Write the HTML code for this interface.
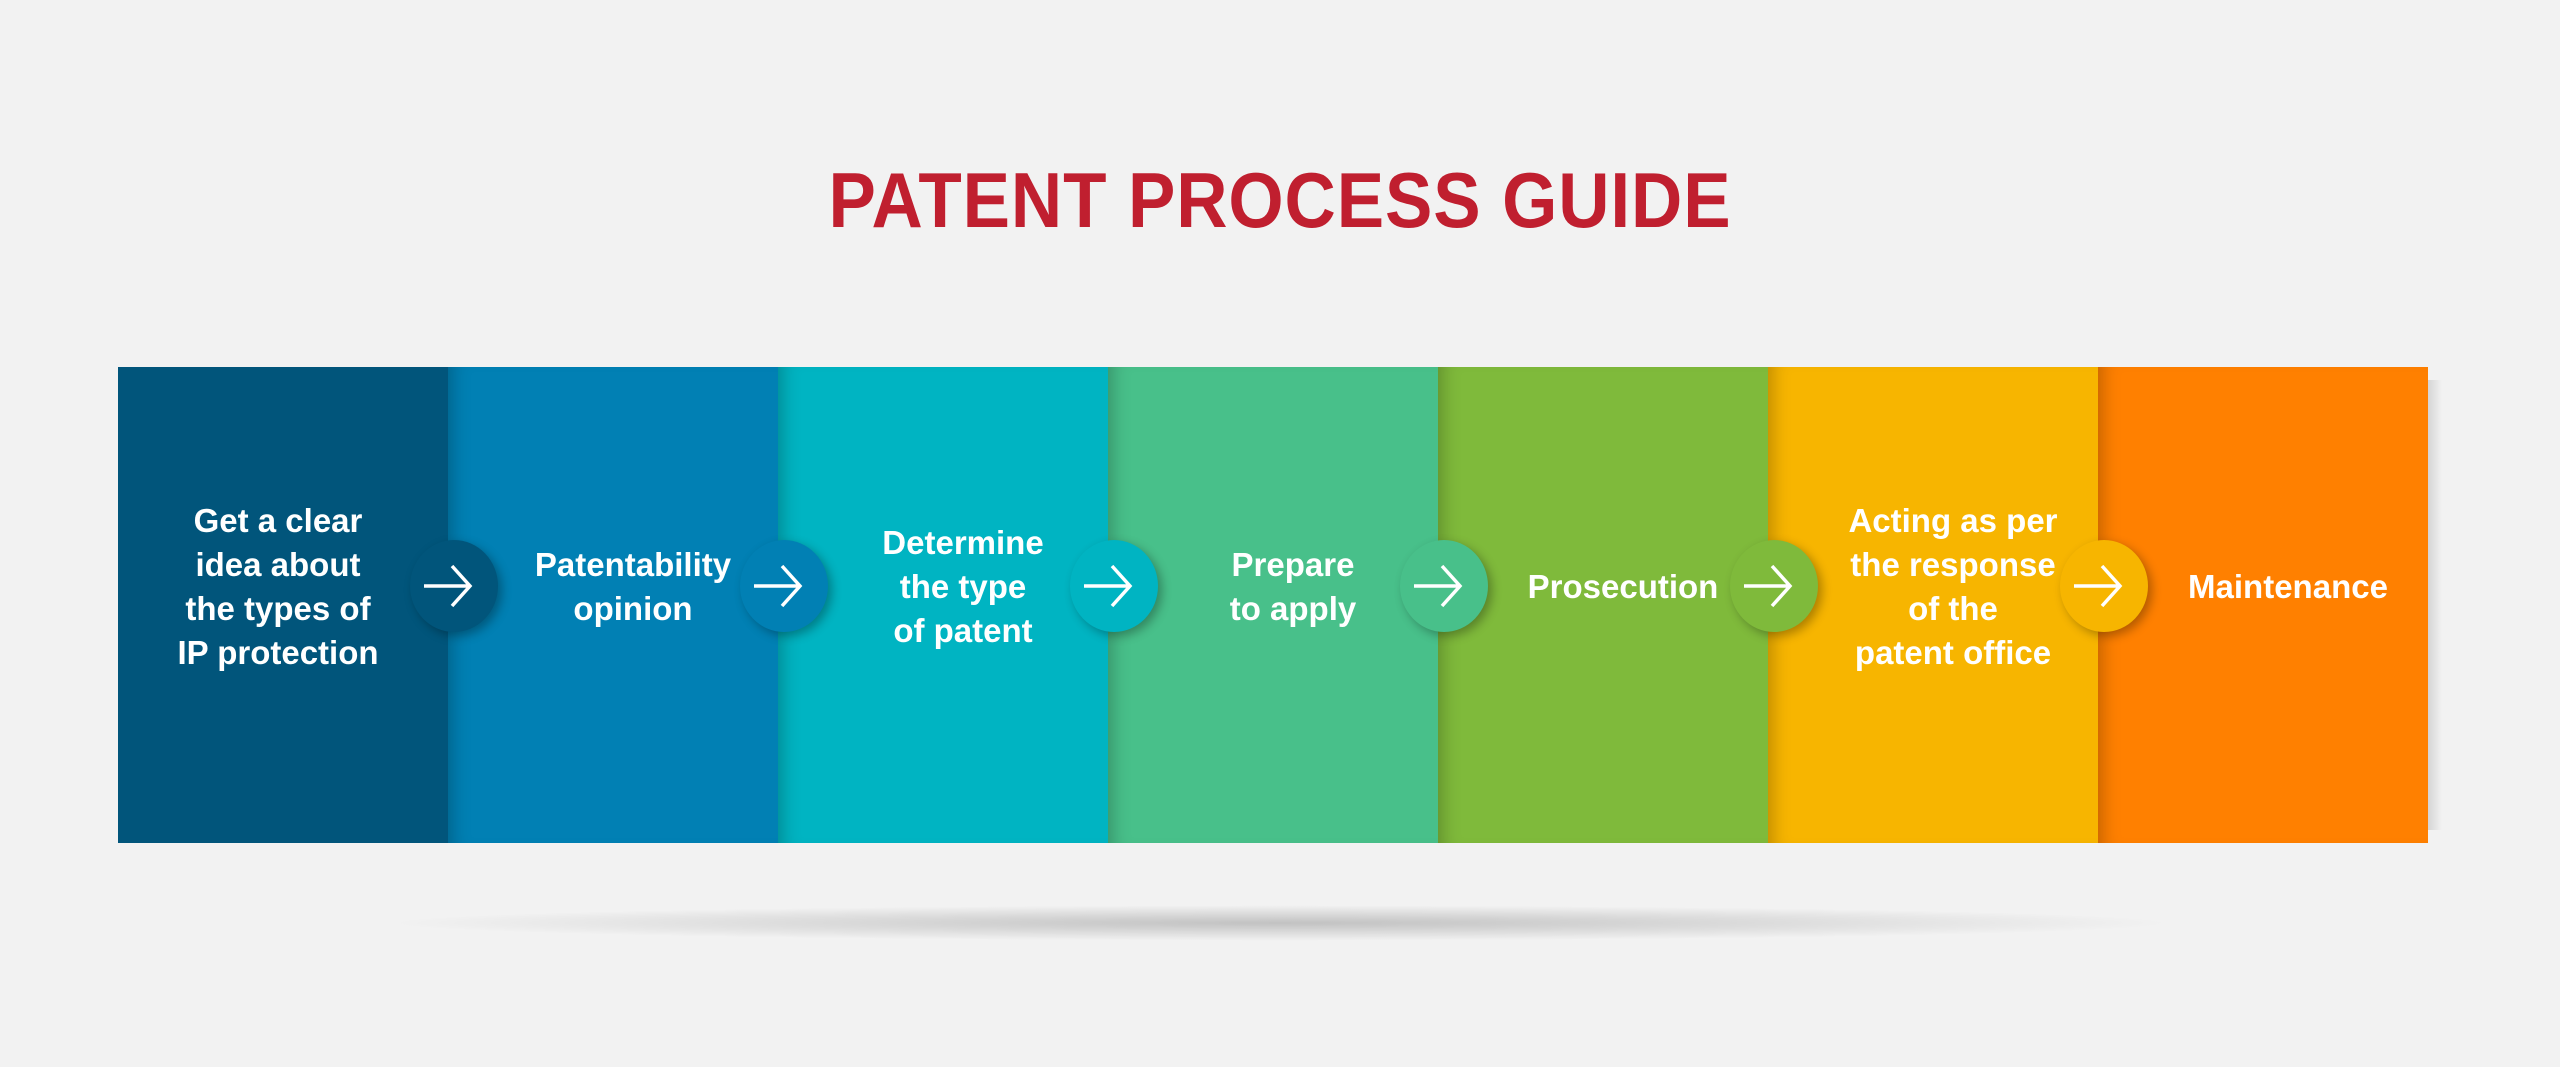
<!DOCTYPE html>
<html><head><meta charset="utf-8"><style>
html,body{margin:0;padding:0}
body{width:2560px;height:1067px;background:#f2f2f2;position:relative;overflow:hidden;font-family:"Liberation Sans",sans-serif}
.title{position:absolute;left:0;width:2560px;top:150px;text-align:center;color:#c01f2f;font-weight:bold;font-size:78px;letter-spacing:1px;line-height:100px;transform:scaleX(0.91)}
.shadow{position:absolute;left:380px;width:1800px;top:905px;height:36px;border-radius:50%;background:radial-gradient(ellipse at center,rgba(0,0,0,0.2),rgba(0,0,0,0) 70%)}
.p{position:absolute;top:367px;height:476px;width:330px;display:flex;align-items:center;justify-content:center;color:#fff;font-weight:bold;font-size:33px;line-height:44px;text-align:center;box-sizing:border-box;padding-bottom:36px}
.p.s{box-shadow:inset 18px 0 18px -14px rgba(0,0,0,0.25)}
.c{position:absolute;top:540px;width:88px;height:92px;border-radius:50%;box-shadow:4px 4px 10px rgba(0,0,0,0.3);z-index:2}
.c svg{position:absolute;left:12px;top:22px}
.end{position:absolute;left:2428px;top:380px;width:14px;height:450px;background:linear-gradient(90deg,rgba(0,0,0,0.12),rgba(0,0,0,0))}
</style></head><body>
<div class="title">PATENT PROCESS GUIDE</div>
<div class="shadow"></div>
<div class="p" style="left:118px;background:#01557b;padding-right:10px">Get a clear<br>idea about<br>the types of<br>IP protection</div>
<div class="p s" style="left:448px;background:#0180b4;padding-left:40px">Patentability<br>opinion</div>
<div class="p s" style="left:778px;background:#00b4c2;padding-left:40px">Determine<br>the type<br>of patent</div>
<div class="p s" style="left:1108px;background:#48c08a;padding-left:40px">Prepare<br>to apply</div>
<div class="p s" style="left:1438px;background:#7fba3b;padding-left:40px">Prosecution</div>
<div class="p s" style="left:1768px;background:#f7b500;padding-left:40px">Acting as per<br>the response<br>of the<br>patent office</div>
<div class="p s" style="left:2098px;background:#ff8000;padding-left:50px">Maintenance</div>
<div class="end"></div>
<div class="c" style="left:410px;background:#01557b"><svg width="52" height="48" viewBox="0 0 52 48"><path d="M2 24H48M30 4L48 24L30 44" stroke="#fff" stroke-width="3.5" fill="none"/></svg></div>
<div class="c" style="left:740px;background:#0180b4"><svg width="52" height="48" viewBox="0 0 52 48"><path d="M2 24H48M30 4L48 24L30 44" stroke="#fff" stroke-width="3.5" fill="none"/></svg></div>
<div class="c" style="left:1070px;background:#00b4c2"><svg width="52" height="48" viewBox="0 0 52 48"><path d="M2 24H48M30 4L48 24L30 44" stroke="#fff" stroke-width="3.5" fill="none"/></svg></div>
<div class="c" style="left:1400px;background:#48c08a"><svg width="52" height="48" viewBox="0 0 52 48"><path d="M2 24H48M30 4L48 24L30 44" stroke="#fff" stroke-width="3.5" fill="none"/></svg></div>
<div class="c" style="left:1730px;background:#7fba3b"><svg width="52" height="48" viewBox="0 0 52 48"><path d="M2 24H48M30 4L48 24L30 44" stroke="#fff" stroke-width="3.5" fill="none"/></svg></div>
<div class="c" style="left:2060px;background:#f7b500"><svg width="52" height="48" viewBox="0 0 52 48"><path d="M2 24H48M30 4L48 24L30 44" stroke="#fff" stroke-width="3.5" fill="none"/></svg></div>
</body></html>
